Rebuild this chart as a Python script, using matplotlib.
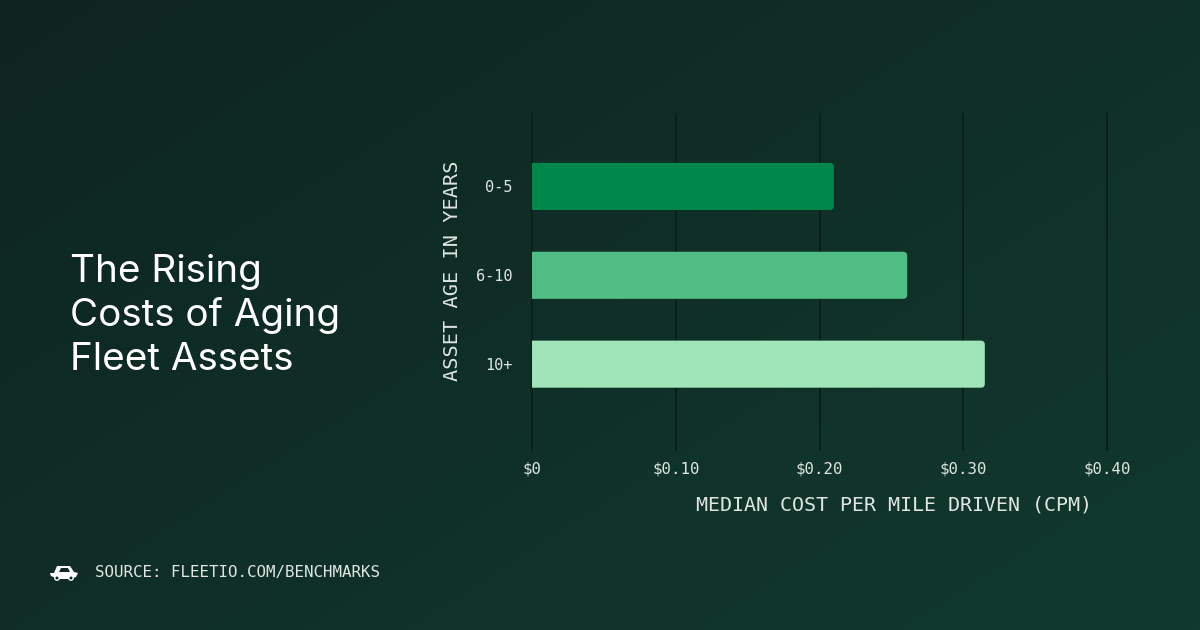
import matplotlib.pyplot as plt
import numpy as np
from matplotlib.patches import FancyBboxPatch, Polygon, Circle

# Data
age_groups = ["0-5", "6-10", "10+"]
median_cpm = [0.210, 0.261, 0.315]
bar_colors = ["#00874a", "#4fbd84", "#9fe5b8"]
x_ticks = [0, 0.10, 0.20, 0.30, 0.40]
x_tick_labels = ["$0", "$0.10", "$0.20", "$0.30", "$0.40"]

mono = "DejaVu Sans Mono"
text_color = "#dfe6e2"

fig = plt.figure(figsize=(12, 6.3), dpi=100)

# background gradient
bg = fig.add_axes([0, 0, 1, 1], zorder=-10)
gx, gy = np.meshgrid(np.linspace(0, 1, 300), np.linspace(0, 1, 160))
t = np.clip(0.55 * gx + 0.45 * gy, 0, 1)
c0 = np.array([0x0e, 0x24, 0x20]) / 255
c1 = np.array([0x11, 0x3a, 0x2f]) / 255
img = c0[None, None, :] * (1 - t[..., None]) + c1[None, None, :] * t[..., None]
bg.imshow(img, aspect="auto", extent=[0, 1, 0, 1], origin="upper")
bg.axis("off")

# chart
ax = fig.add_axes([532 / 1200, 1 - 450 / 630, 575 / 1200, 336 / 630])
ax.set_facecolor("none")
y = np.arange(len(age_groups))
bar_h = 0.53

px_x = 0.40 / 575
px_y = 1 / 89
for yi, val, col in zip(y, median_cpm, bar_colors):
    # start left of zero so the axes clip gives a square left end
    x0 = -10 * px_x
    bar = FancyBboxPatch((x0, yi - bar_h / 2), val - x0, bar_h,
                         boxstyle=f"round,pad=0,rounding_size={4 * px_x}",
                         mutation_aspect=px_y / px_x,
                         facecolor=col, edgecolor="none", zorder=3)
    ax.add_patch(bar)

ax.set_xlim(0, 0.40)
ax.set_ylim(2.966, -0.815)
ax.set_yticks(y)
ax.set_yticklabels(age_groups)
ax.set_xticks(x_ticks)
ax.set_xticklabels(x_tick_labels)
for v in x_ticks:
    ax.axvline(v, color="#0b1f1a", lw=1.4, zorder=1, clip_on=False)
for s in ax.spines.values():
    s.set_visible(False)
ax.tick_params(axis="x", length=0, pad=8, labelsize=11.3, labelcolor=text_color)
ax.tick_params(axis="y", length=0, pad=14, labelsize=11, labelcolor=text_color)
for lab in ax.get_xticklabels() + ax.get_yticklabels():
    lab.set_fontfamily(mono)

fig.text(894 / 1200, 1 - 505 / 630, "MEDIAN COST PER MILE DRIVEN (CPM)",
         fontfamily=mono, fontsize=14.4, color=text_color,
         ha="center", va="center")
fig.text(452 / 1200, 1 - 271 / 630, "ASSET AGE IN YEARS", rotation=90,
         fontfamily=mono, fontsize=14.6, color=text_color,
         ha="center", va="center")

# title
for i, line in enumerate(["The Rising", "Costs of Aging", "Fleet Assets"]):
    fig.text(70 / 1200, 1 - (272 + 44 * i) / 630, line, fontfamily="Inter",
             fontsize=27.8, color="white", ha="left", va="center")

# source line with a small vehicle icon
fig.text(95 / 1200, 1 - 572 / 630, "SOURCE: FLEETIO.COM/BENCHMARKS",
         fontfamily=mono, fontsize=11.4, color=text_color, ha="left", va="center")
icon = fig.add_axes([48 / 1200, 1 - 582 / 630, 32 / 1200, 20 / 630])
icon.set_xlim(0, 32)
icon.set_ylim(0, 20)
icon.axis("off")
icon.add_patch(Polygon([[2, 9], [6, 9], [9, 16], [22, 16], [26, 10], [30, 9],
                        [28, 5], [22, 3], [10, 3], [3, 6]],
                       closed=True, facecolor="white", edgecolor="none"))
icon.add_patch(Polygon([[11, 10], [13, 14], [20, 14], [22, 10]],
                       closed=True, facecolor="#0f2a24", edgecolor="none"))
icon.add_patch(Circle((9, 4), 2.2, facecolor="#0f2a24", edgecolor="white", lw=1))
icon.add_patch(Circle((23, 4), 2.2, facecolor="#0f2a24", edgecolor="white", lw=1))

fig.savefig("out.png", dpi=100)
